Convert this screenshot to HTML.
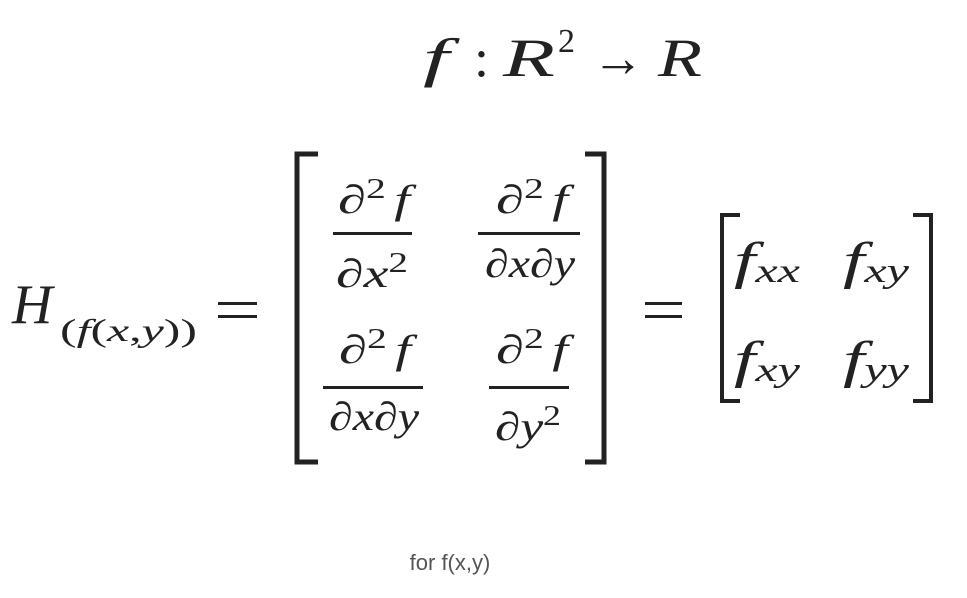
<!DOCTYPE html>
<html><head><meta charset="utf-8"><style>
html,body{margin:0;padding:0;background:#fff;}
svg{display:block}
.s{font-family:"Liberation Serif",serif;fill:#222;}
.i{font-style:italic}
</style></head><body>
<svg width="967" height="598" viewBox="0 0 967 598" xmlns="http://www.w3.org/2000/svg">
<!-- title -->
<g class="s" font-size="54">
<text x="423" y="76" class="i" textLength="26" lengthAdjust="spacingAndGlyphs">f</text>
<text x="474" y="76">:</text>
<text x="503" y="76" class="i" textLength="52" lengthAdjust="spacingAndGlyphs">R</text>
<text x="558" y="52" font-size="34">2</text>
<text x="592" y="76" textLength="52" lengthAdjust="spacingAndGlyphs">→</text>
<text x="658" y="76" class="i" textLength="44" lengthAdjust="spacingAndGlyphs">R</text>
</g>

<!-- H -->
<text class="s i" x="12" y="323" font-size="56">H</text>
<text class="s" x="60" y="341" font-size="32" textLength="137" lengthAdjust="spacingAndGlyphs">(<tspan class="i">f</tspan>(<tspan class="i">x</tspan>,<tspan class="i">y</tspan>))</text>
<rect x="218" y="302" width="39" height="3" fill="#222"/>
<rect x="218" y="315" width="39" height="3" fill="#222"/>

<!-- big left matrix brackets -->
<path d="M318 154 H297 V462 H318" fill="none" stroke="#222" stroke-width="5"/>
<path d="M585 154 H604 V462 H585" fill="none" stroke="#222" stroke-width="5"/>

<!-- fractions -->
<g class="s" font-size="40">
<text x="338" y="213" class="i" textLength="72" lengthAdjust="spacingAndGlyphs">∂<tspan font-size="28" dy="-15" font-style="normal">2</tspan><tspan dy="15" dx="6">f</tspan></text>
<rect x="333" y="232" width="79" height="3" fill="#222"/>
<text x="336" y="287" class="i" textLength="72" lengthAdjust="spacingAndGlyphs">∂x<tspan font-size="28" dy="-15" font-style="normal">2</tspan></text>

<text x="496" y="213" class="i" textLength="72" lengthAdjust="spacingAndGlyphs">∂<tspan font-size="28" dy="-15" font-style="normal">2</tspan><tspan dy="15" dx="6">f</tspan></text>
<rect x="478" y="232" width="102" height="3" fill="#222"/>
<text x="485" y="277" class="i" textLength="90" lengthAdjust="spacingAndGlyphs">∂x∂y</text>

<text x="339" y="363" class="i" textLength="72" lengthAdjust="spacingAndGlyphs">∂<tspan font-size="28" dy="-15" font-style="normal">2</tspan><tspan dy="15" dx="6">f</tspan></text>
<rect x="323" y="386" width="100" height="3" fill="#222"/>
<text x="329" y="430" class="i" textLength="90" lengthAdjust="spacingAndGlyphs">∂x∂y</text>

<text x="496" y="363" class="i" textLength="72" lengthAdjust="spacingAndGlyphs">∂<tspan font-size="28" dy="-15" font-style="normal">2</tspan><tspan dy="15" dx="6">f</tspan></text>
<rect x="489" y="386" width="80" height="3" fill="#222"/>
<text x="495" y="440" class="i" textLength="66" lengthAdjust="spacingAndGlyphs">∂y<tspan font-size="28" dy="-15" font-style="normal">2</tspan></text>
</g>

<rect x="645" y="302" width="37" height="3" fill="#222"/>
<rect x="645" y="315" width="37" height="3" fill="#222"/>

<!-- small matrix -->
<path d="M740 215 H722 V401 H740" fill="none" stroke="#222" stroke-width="4"/>
<path d="M913 215 H931 V401 H913" fill="none" stroke="#222" stroke-width="4"/>
<g class="s i" font-size="52">
<text x="734" y="278" textLength="66" lengthAdjust="spacingAndGlyphs">f<tspan font-size="34" dy="4">xx</tspan></text>
<text x="843" y="278" textLength="66" lengthAdjust="spacingAndGlyphs">f<tspan font-size="34" dy="4">xy</tspan></text>
<text x="734" y="377" textLength="66" lengthAdjust="spacingAndGlyphs">f<tspan font-size="34" dy="4">xy</tspan></text>
<text x="843" y="377" textLength="66" lengthAdjust="spacingAndGlyphs">f<tspan font-size="34" dy="4">yy</tspan></text>
</g>

<text x="450" y="570" text-anchor="middle" font-family="Liberation Sans, sans-serif" font-size="22" fill="#555">for f(x,y)</text>
</svg>
</body></html>
